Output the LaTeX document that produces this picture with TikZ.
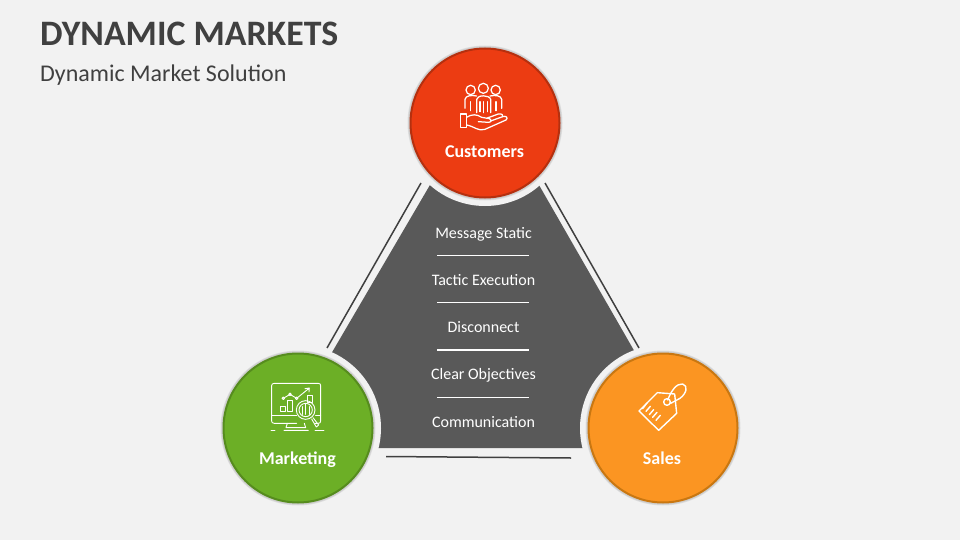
\documentclass[tikz,border=0pt]{standalone}
\usepackage{fontspec}
\setmainfont{Carlito}
\usepackage{tikz}
\definecolor{pagebg}{HTML}{F2F2F2}
\definecolor{panelgray}{HTML}{595959}
\definecolor{inkgray}{HTML}{404040}
\definecolor{custfill}{HTML}{EC3C12}
\definecolor{custline}{HTML}{B5300F}
\definecolor{markfill}{HTML}{6CAF26}
\definecolor{markline}{HTML}{568C1E}
\definecolor{salefill}{HTML}{FB9522}
\definecolor{saleline}{HTML}{C97711}
\tikzset{bubble/.style={circle,draw,line width=2pt,minimum size=149pt,inner sep=0pt},
halo/.style={circle,fill=pagebg,minimum size=166pt,inner sep=0pt},
glow/.style={circle,fill=black,fill opacity=.08,inner sep=0pt},
item/.style={text=white,anchor=base,font=\fontsize{16}{18}\selectfont,inner sep=0pt},
tag/.style={text=white,anchor=base,font=\fontsize{18}{20}\selectfont\bfseries,inner sep=0pt},
icon/.style={draw=white,line width=1.25pt,line join=round,line cap=round,fill=none},
rule/.style={draw=white,line width=1.5pt},
edgeline/.style={draw=inkgray,line width=1.5pt}}
\begin{document}
\begin{tikzpicture}[x=1pt,y=-1pt]
\useasboundingbox[fill=pagebg] (0,0) rectangle (960,540);
\node[anchor=west,inner sep=0pt,text=inkgray,font=\fontsize{35.8}{40}\selectfont\bfseries] (title) at (40,34) {DYNAMIC MARKETS};
\node[anchor=west,inner sep=0pt,text=inkgray,font=\fontsize{24}{26}\selectfont] (subtitle) at (40,75.5) {Dynamic Market Solution};
% middle panel
\fill[panelgray] (485,91) -- (276,448) -- (690,448) -- cycle;
\node[halo] (h1) at (485,123) {};
\node[halo] (h2) at (298,428) {};
\node[halo] (h3) at (663,428) {};
% soft edges
\node[glow,minimum size=155pt] (g1a) at (485,123) {};
\node[glow,minimum size=153.5pt] (g1b) at (485,123) {};
\node[glow,minimum size=155pt] (g2a) at (298,428) {};
\node[glow,minimum size=153.5pt] (g2b) at (298,428) {};
\node[glow,minimum size=155pt] (g3a) at (663,428) {};
\node[glow,minimum size=153.5pt] (g3b) at (663,428) {};
\node[bubble,fill=custfill,draw=custline] (cust) at (485,123) {};
\node[bubble,fill=markfill,draw=markline] (mark) at (298,428) {};
\node[bubble,fill=salefill,draw=saleline] (sale) at (663,428) {};
\node[tag] (custlabel) at (484.5,157.5) {Customers};
\node[tag] (marklabel) at (297.5,464) {Marketing};
\node[tag] (salelabel) at (662,464) {Sales};
% list
\node[item] (t1) at (483.5,238) {Message Static};
\node[item] (t2) at (483.5,285) {Tactic Execution};
\node[item] (t3) at (483.5,332) {Disconnect};
\node[item] (t4) at (483.5,379) {Clear Objectives};
\node[item] (t5) at (483.5,427) {Communication};
\coordinate (r1a) at (437,255.7); \coordinate (r1b) at (529,255.7);
\coordinate (r2a) at (437,302.7); \coordinate (r2b) at (529,302.7);
\coordinate (r3a) at (437,350); \coordinate (r3b) at (529,350);
\coordinate (r4a) at (437,397.7); \coordinate (r4b) at (529,397.7);
\draw[rule] (r1a) -- (r1b) (r2a) -- (r2b) (r3a) -- (r3b) (r4a) -- (r4b);
% outer lines
\coordinate (e1a) at (421,183); \coordinate (e1b) at (327,348);
\coordinate (e2a) at (545,183); \coordinate (e2b) at (639,348);
\coordinate (e3a) at (386,456.5); \coordinate (e3b) at (571,458);
\draw[edgeline] (e1a) -- (e1b) (e2a) -- (e2b) (e3a) -- (e3b);
% customers icon
\begin{scope}[shift={(400,40)},x=.3333pt,y=-.3333pt]
\draw[icon] (212,150) circle (14) (250,145) circle (15) (287,150) circle (14);
\draw[icon] (195,205) -- (195,178) .. controls (197,166) and (215,165) .. (230,168);
\draw[icon] (305,205) -- (305,178) .. controls (303,166) and (285,165) .. (270,168);
\draw[icon] (230,218) -- (230,178) .. controls (232,164) and (268,164) .. (272,178) -- (272,218);
\draw[icon] (212,185) -- (212,212) (250,185) -- (250,218) (240,185) -- (240,215) (262,185) -- (262,215) (288,185) -- (288,212);
\draw[icon] (182,222) -- (200,222) -- (200,263) -- (182,263) -- cycle;
\draw[icon] (200,232) .. controls (215,222) and (230,222) .. (245,232) -- (268,236) .. controls (276,238) and (274,248) .. (265,247) -- (235,245);
\draw[icon] (200,255) .. controls (225,260) and (235,275) .. (255,268) -- (318,240) .. controls (326,234) and (318,226) .. (308,230) -- (272,243);
\draw[icon] (262,234) -- (295,222) .. controls (305,220) and (312,226) .. (308,230);
\end{scope}
% marketing icon
\begin{scope}[shift={(215,345)},x=.3333pt,y=-.3333pt,icon/.append style={line width=.9pt}]
\draw[icon] (245,235) -- (178,235) .. controls (172,235) and (170,232) .. (170,228) -- (170,122) .. controls (170,118) and (172,115) .. (178,115) -- (310,115) .. controls (315,115) and (317,118) .. (317,122) -- (317,228) .. controls (317,232) and (315,235) .. (310,235) -- (300,235);
\draw[icon] (170,210) -- (245,210) (302,210) -- (317,210);
\draw[icon] (217,235) -- (213,248) -- (272,248) -- (268,235) (207,256) -- (280,256);
\draw[icon] (168,256) -- (180,256) (300,256) -- (327,256);
\draw[icon] (197,183) rectangle (210,200) (218,165) rectangle (232,200) (278,152) rectangle (291,172);
\draw[icon] (205,160) -- (225,148) -- (245,160) -- (281,131) (270,131) -- (283,129) -- (282,141);
\draw[icon] (205,160) circle (4) (225,148) circle (4) (245,160) circle (4);
\draw[icon] (272,195) circle (28) (272,195) circle (20);
\draw[icon] (262,185) -- (262,208) (272,178) -- (272,208) (282,185) -- (282,208);
\draw[icon] (290,222) -- (304,246) -- (311,240) -- (294,218);
\end{scope}
% sales icon
\begin{scope}[shift={(580,345)},x=.3333pt,y=-.3333pt,icon/.append style={line width=1.4pt}]
\draw[icon] (177,198) -- (232,143) -- (284,147) -- (290,205) -- (236,256) -- cycle;
\draw[icon] (261,171) circle (10);
\draw[icon] (263,165) .. controls (275,135) and (290,115) .. (308,117) .. controls (325,122) and (320,145) .. (300,160) -- (272,175);
\draw[icon] (201,174) -- (188,191) (211,184) -- (198,199) (221,194) -- (208,209) (231,202) -- (218,217) (241,211) -- (228,226);
\end{scope}
\end{tikzpicture}
\end{document}
